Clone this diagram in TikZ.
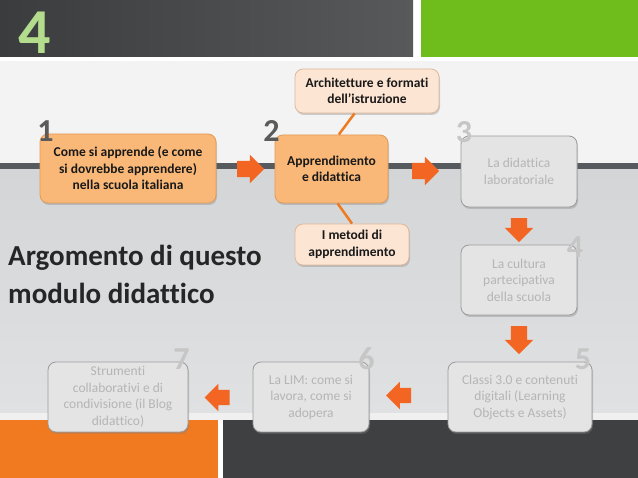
\documentclass[tikz,border=0pt]{standalone}
\usepackage{fontspec}
\setmainfont{Carlito}[Ligatures={NoCommon}]
\usetikzlibrary{shapes.arrows,shadows}
\definecolor{boardL}{HTML}{3A3C3E}
\definecolor{boardR}{HTML}{57595B}
\definecolor{grassG}{HTML}{6FBD1C}
\definecolor{paleT}{HTML}{F3F3F3}
\definecolor{railG}{HTML}{565A5E}
\definecolor{lowT}{HTML}{D3D5D7}
\definecolor{lowB}{HTML}{E0E1E2}
\definecolor{stripW}{HTML}{F0F0F0}
\definecolor{botOr}{HTML}{F17A20}
\definecolor{botDk}{HTML}{3E4042}
\definecolor{boxOr}{HTML}{F9B877}
\definecolor{boxOrD}{HTML}{E39A55}
\definecolor{boxPe}{HTML}{FDE5D3}
\definecolor{boxPeD}{HTML}{E0B89A}
\definecolor{boxGr}{HTML}{E4E4E4}
\definecolor{boxGrD}{HTML}{9C9C9C}
\definecolor{txtGr}{HTML}{B5B5B5}
\definecolor{arrOr}{HTML}{F26522}
\definecolor{linkOr}{HTML}{EE7B22}
\definecolor{numDk}{HTML}{5A5A5A}
\definecolor{numLt}{HTML}{C6C6C6}
\definecolor{titleG}{HTML}{B3DC8C}
\definecolor{headTx}{HTML}{262626}
\tikzset{
  basebox/.style={rounded corners=8pt, line width=0.8pt, align=center, inner sep=0pt,
    drop shadow={opacity=0.35, shadow xshift=1pt, shadow yshift=-2pt},
    font=\fontsize{13.5}{16.5}\selectfont},
  orbox/.style={basebox, fill=boxOr, draw=boxOrD, font=\bfseries\fontsize{13.5}{16.5}\selectfont, text=black!90},
  pebox/.style={basebox, fill=boxPe, draw=boxPeD, font=\bfseries\fontsize{13.5}{16.5}\selectfont, text=black!90},
  grbox/.style={basebox, fill=boxGr, draw=boxGrD, text=txtGr},
  blockarrow/.style={single arrow, fill=arrOr, draw=none, inner xsep=0pt, inner ysep=8pt,
    single arrow head extend=6pt, single arrow tip angle=90, minimum width=28},
  stepnum/.style={inner sep=0pt, font=\bfseries\fontsize{32}{32}\selectfont},
  link/.style={draw=linkOr, line width=2.5pt}
}
\begin{document}
\begin{tikzpicture}[x=1pt,y=-1pt]
% background
\fill[white] (0,0) rectangle (638,478);
\useasboundingbox (0,0) rectangle (638,478);
\fill[left color=boardL, right color=boardR] (0,0) rectangle (413,57);
\fill[grassG] (421,0) rectangle (638,57);
\fill[paleT] (0,61) rectangle (638,163);
\fill[top color=lowT, bottom color=lowB] (0,169) rectangle (638,413);
\fill[railG] (0,163) rectangle (638,169);
\fill[stripW] (0,413) rectangle (638,420);
\fill[botOr] (0,420) rectangle (218,478);
\fill[botDk] (223,420) rectangle (638,478);
% title
\node[inner sep=0pt, text=titleG, font=\bfseries\fontsize{64}{64}\selectfont] (bigfour) at (35,32.5) {4};
\node[inner sep=0pt, anchor=west, align=left, text=headTx, font=\bfseries\fontsize{29}{38}\selectfont] (subject) at (8,274) {Argomento di questo\\modulo didattico};
% boxes
\node[orbox, minimum width=176, minimum height=69] (b1) at (128,168.5) {Come si apprende (e come\\si dovrebbe apprendere)\\nella scuola italiana};
\node[orbox, minimum width=113, minimum height=68] (b2) at (331.5,169) {Apprendimento\\e didattica};
\node[pebox, minimum width=144, minimum height=44] (arch) at (367,91) {Architetture e formati\\dell’istruzione};
\node[pebox, minimum width=114, minimum height=41] (metodi) at (352,244.5) {I metodi di\\apprendimento};
\node[grbox, minimum width=116, minimum height=71] (b3) at (519,171.5) {La didattica\\laboratoriale};
\node[grbox, minimum width=116, minimum height=70] (b4) at (519,280) {La cultura\\partecipativa\\della scuola};
\node[grbox, minimum width=144, minimum height=70] (b5) at (520,397) {Classi 3.0 e contenuti\\digitali (Learning\\Objects e Assets)};
\node[grbox, minimum width=116, minimum height=70] (b6) at (311,397) {La LIM: come si\\lavora, come si\\adopera};
\node[grbox, minimum width=140, minimum height=70] (b7) at (118,397) {Strumenti\\collaborativi e di\\condivisione (il Blog\\didattico)};
% links
\draw[link] (arch.241) -- (b2.78);
\draw[link] (b2.280) -- (metodi.90);
% step numbers
\node[stepnum, text=numDk] (n1) at (45.5,131) {1};
\node[stepnum, text=numDk] (n2) at (271.5,131) {2};
\node[stepnum, text=numLt] (n3) at (464,132.5) {3};
\node[stepnum, text=numLt] (n4) at (575,247.5) {4};
\node[stepnum, text=numLt] (n5) at (583,359) {5};
\node[stepnum, text=numLt] (n6) at (366.5,359) {6};
\node[stepnum, text=numLt] (n7) at (181.5,359) {7};
% arrows
\node[blockarrow, minimum height=27] (a12) at (246.5,169) {};
\node[blockarrow, minimum height=27] (a23) at (421.5,171) {};
\node[blockarrow, minimum height=24, rotate=270] (a34) at (519,226) {};
\node[blockarrow, minimum height=28, rotate=270] (a45) at (519,336) {};
\node[blockarrow, minimum height=25, minimum width=26, inner ysep=7.5pt, rotate=180] (a56) at (402.5,395.5) {};
\node[blockarrow, minimum height=25, minimum width=26, inner ysep=7.5pt, rotate=180] (a67) at (221,397.5) {};
\end{tikzpicture}
\end{document}
